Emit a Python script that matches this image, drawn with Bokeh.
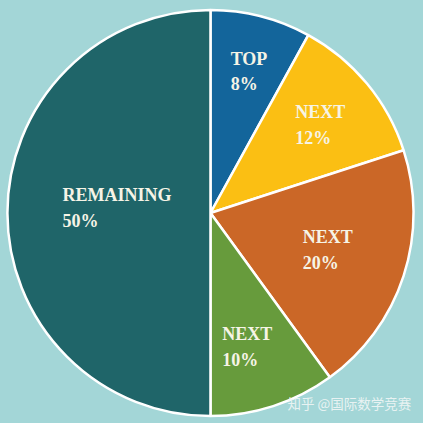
import numpy as np
from bokeh.plotting import figure
from bokeh.models import ColumnDataSource, Label
from bokeh.core.properties import value
from bokeh.embed import file_html
from bokeh.resources import INLINE

# slices, clockwise from 12 o'clock
names = ["TOP", "NEXT", "NEXT", "NEXT", "REMAINING"]
shares = [8, 12, 20, 10, 50]
colors = ["#13659b", "#fbbf13", "#cb6727", "#679b3c", "#1f6569"]

BG = "#a3d6d7"
FONT_PX = 18
# where each label block sits: fraction of the radius, and a nudge (deg) off the mid angle
label_r = [0.72, 0.68, 0.59, 0.68, 0.49]
label_turn = [0, 0, 0, -4, -3]

frac = np.array(shares) / 100.0
ends = np.pi / 2 - 2 * np.pi * np.cumsum(frac)
starts = np.concatenate([[np.pi / 2], ends[:-1]])
mids = (starts + ends) / 2 + np.radians(label_turn)

src = ColumnDataSource(dict(start=starts, end=ends, color=colors))

labels = [f"{n}\n{s}%" for n, s in zip(names, shares)]
lx = np.array(label_r) * np.cos(mids)
ly = np.array(label_r) * np.sin(mids)
# text is left aligned inside its block: shift by half the widest line
offs = [-0.5 * 0.6 * FONT_PX * max(len(t) for t in lab.split("\n")) for lab in labels]
lsrc = ColumnDataSource(dict(x=lx, y=ly, text=labels, xo=offs))

p = figure(width=423, height=423, x_range=(-1.034, 1.049), y_range=(-1.037, 1.047),
           output_backend="svg", toolbar_location=None, min_border=0,
           background_fill_color=BG, border_fill_color=BG)
p.axis.visible = False
p.grid.visible = False
p.outline_line_color = None

p.wedge(x=0, y=0, radius=1, start_angle="start", end_angle="end", direction="clock",
        fill_color="color", line_color="white", line_width=2.5, source=src)

p.text(x="x", y="y", text="text", x_offset="xo", source=lsrc,
       text_font=value("Liberation Serif"), text_font_style="bold",
       text_font_size=f"{FONT_PX}px", text_color="#f6f4e6",
       text_align="left", text_baseline="middle", text_line_height=1.28)

p.add_layout(Label(x=287, y=11, x_units="screen", y_units="screen",
                   text="知乎 @国际数学竞赛", text_font="Noto Sans CJK SC",
                   text_font_size="13.5px", text_color="#f2f6f6", text_alpha=0.9))

html = file_html(p, INLINE)
html = html.replace("</head>", "<style>body{background:%s}</style></head>" % BG, 1)
open("out.html", "w").write(html)
